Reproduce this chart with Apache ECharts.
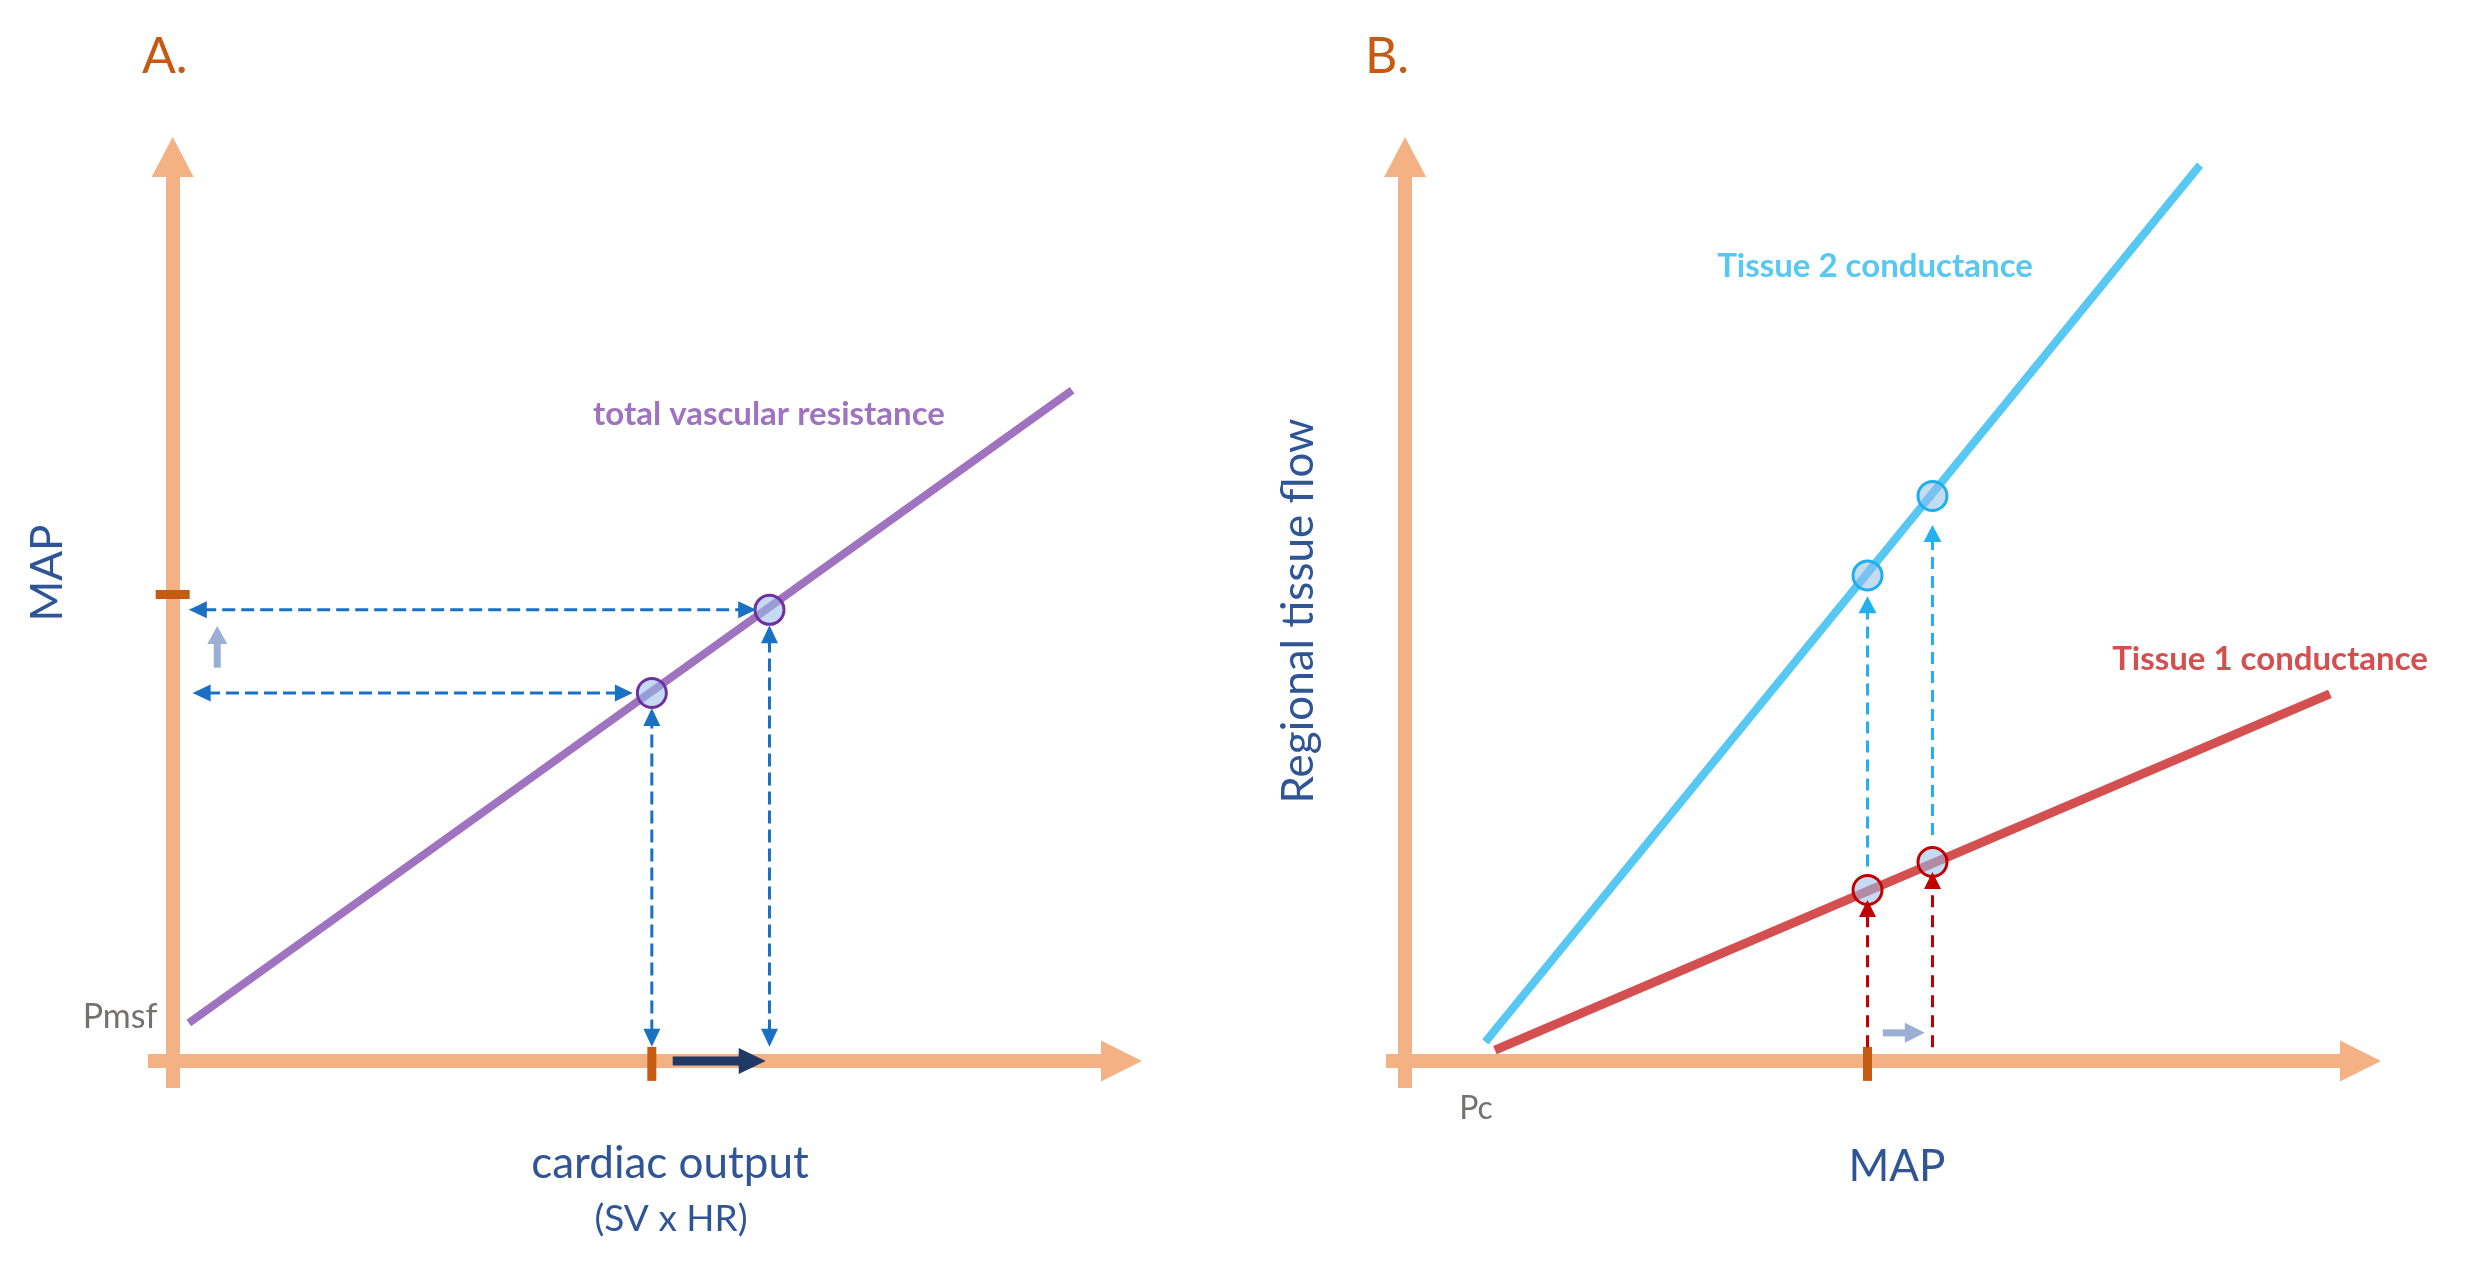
<!DOCTYPE html>
<html><head><meta charset="utf-8">
<script src="https://cdn.jsdelivr.net/npm/echarts@6/dist/echarts.min.js"></script>
<style>html,body{margin:0;padding:0;background:#fff}#c{width:2470px;height:1262px}</style>
</head><body><div id="c"></div>
<script>
// ---------- Panel A (arbitrary units) ----------
const tvrLine = [[1.7, 4.2], [94.8, 74.2]];          // total vascular resistance line, starts at Pmsf
const coValues = [50.5, 62.9];                        // cardiac output: baseline, increased
const mapValuesA = [40.7, 49.9];                      // MAP
const mapTickA = 51.6;                                // orange tick on MAP axis
const dashArrowsA = [                                 // [x1, y1, x2, y2] tip to tip, double-headed
  [1.7, 49.9, 61.5, 49.9],
  [2.1, 40.7, 48.5, 40.7],
  [50.5, 1.55, 50.5, 39.05],
  [62.9, 1.55, 62.9, 48.2]
];
const shiftUpA = [[4.7, 43.5, 4.7, 48.1]];            // light "MAP rises" arrow
const shiftCoA = [[52.7, 0, 62.5, 0]];                // navy "CO rises" arrow

// ---------- Panel B (arbitrary units) ----------
const tissue2Line = [[8.4, 2.1], [83.2, 99.1]];
const tissue1Line = [[9.4, 1.2], [96.8, 40.6]];
const mapValuesB = [48.4, 55.2];
const flow2 = [53.7, 62.5];
const flow1 = [18.9, 22.0];
const dashArrowsB2 = [[48.4, 21.5, 48.4, 51.4], [55.2, 25.0, 55.2, 59.3]];
const dashArrowsB1 = [[48.4, 1.5, 48.4, 17.8], [55.2, 1.5, 55.2, 20.9]];
const shiftMapB = [[50.0, 3.1, 54.4, 3.1]];

const AXIS = '#F4B183', TICK = '#C55A11', LABEL = '#2F5597';
const FONT = 'Lato, "Noto Sans", sans-serif';

function axis(gridIndex, min, max, symSize) {
  return {
    type: 'value', gridIndex, min, max,
    axisTick: {show: false}, axisLabel: {show: false}, splitLine: {show: false},
    axisLine: {show: true, onZero: true, symbol: ['none', 'triangle'], symbolSize: symSize,
      lineStyle: {color: AXIS, width: 14, cap: 'butt'}}
  };
}

function arrowShapes(p0, p1, o) {
  const dx = p1[0] - p0[0], dy = p1[1] - p0[1];
  const len = Math.hypot(dx, dy), ux = dx / len, uy = dy / len, nx = -uy, ny = ux;
  const kids = [];
  const head = (tip, sx, sy) => ({
    type: 'polygon',
    shape: {points: [
      [tip[0], tip[1]],
      [tip[0] - sx * o.headL + nx * o.headW / 2, tip[1] - sy * o.headL + ny * o.headW / 2],
      [tip[0] - sx * o.headL - nx * o.headW / 2, tip[1] - sy * o.headL - ny * o.headW / 2]
    ]},
    style: {fill: o.color}
  });
  const s0 = o.both ? [p0[0] + ux * o.headL * 0.8, p0[1] + uy * o.headL * 0.8] : p0;
  const s1 = [p1[0] - ux * o.headL * 0.8, p1[1] - uy * o.headL * 0.8];
  kids.push({type: 'line', shape: {x1: s0[0], y1: s0[1], x2: s1[0], y2: s1[1]},
    style: {stroke: o.color, lineWidth: o.width, lineDash: o.dash || null, lineCap: 'butt'}});
  kids.push(head(p1, ux, uy));
  if (o.both) kids.push(head(p0, -ux, -uy));
  return {type: 'group', children: kids};
}

function arrowSeries(gi, data, o, z) {
  return {
    type: 'custom', xAxisIndex: gi, yAxisIndex: gi, data, z: z || 6, silent: true,
    renderItem: (params, api) => {
      const p0 = api.coord([api.value(0), api.value(1)]);
      const p1 = api.coord([api.value(2), api.value(3)]);
      return arrowShapes(p0, p1, o);
    }
  };
}

function tickSeries(gi, data, vertical) {
  return {
    type: 'custom', xAxisIndex: gi, yAxisIndex: gi, data, z: 4, silent: true,
    renderItem: (params, api) => {
      const p = api.coord([api.value(0), api.value(1)]);
      const w = vertical ? 9 : 34, h = vertical ? 34 : 9;
      return {type: 'rect', shape: {x: p[0] - w / 2, y: p[1] - h / 2 + (vertical ? 3 : 0), width: w, height: h},
        style: {fill: TICK}};
    }
  };
}

const circleFill = 'rgba(150,190,235,0.55)';

function txt(text, x, y, font, fill, align, rotation) {
  return {type: 'text', x, y, rotation: rotation || 0, silent: true, z: 10,
    style: {text, font, fill, align, textAlign: align, verticalAlign: 'middle', textVerticalAlign: 'middle'}};
}

const option = {
  animation: false,
  backgroundColor: '#ffffff',
  grid: [
    {left: 148, top: 157, width: 973.5, height: 931},
    {left: 1386, top: 157, width: 974.5, height: 931}
  ],
  xAxis: [axis(0, -2.6, 100, [41, 41]), axis(1, -2, 100, [41, 41])],
  yAxis: [axis(0, -3, 100, [42, 40]), axis(1, -3, 100, [42, 40])],
  series: [
    // Panel A
    {type: 'line', xAxisIndex: 0, yAxisIndex: 0, data: tvrLine, showSymbol: false, silent: true, z: 3,
      lineStyle: {color: '#9F73BF', width: 8, cap: 'butt'}},
    tickSeries(0, [[coValues[0], 0]], true),
    tickSeries(0, [[0, mapTickA]], false),
    arrowSeries(0, dashArrowsA, {color: '#1A71C4', width: 3, dash: [13, 6], headL: 18, headW: 17, both: true}),
    arrowSeries(0, shiftUpA, {color: '#9AAFD3', width: 7, headL: 18, headW: 20}),
    arrowSeries(0, shiftCoA, {color: '#1F3864', width: 9, headL: 27, headW: 26}),
    {type: 'scatter', xAxisIndex: 0, yAxisIndex: 0, z: 5, silent: true, symbolSize: 29,
      data: coValues.map((x, i) => [x, mapValuesA[i]]),
      itemStyle: {color: circleFill, borderColor: '#7030A0', borderWidth: 3, opacity: 1}},
    // Panel B
    {type: 'line', xAxisIndex: 1, yAxisIndex: 1, data: tissue2Line, showSymbol: false, silent: true, z: 3,
      lineStyle: {color: '#56C8F3', width: 8, cap: 'butt'}},
    {type: 'line', xAxisIndex: 1, yAxisIndex: 1, data: tissue1Line, showSymbol: false, silent: true, z: 3,
      lineStyle: {color: '#D45050', width: 9, cap: 'butt'}},
    tickSeries(1, [[mapValuesB[0], 0]], true),
    {type: 'scatter', xAxisIndex: 1, yAxisIndex: 1, z: 5, silent: true, symbolSize: 29,
      data: mapValuesB.map((x, i) => [x, flow2[i]]),
      itemStyle: {color: circleFill, borderColor: '#1DAFEF', borderWidth: 3, opacity: 1}},
    {type: 'scatter', xAxisIndex: 1, yAxisIndex: 1, z: 5, silent: true, symbolSize: 29,
      data: mapValuesB.map((x, i) => [x, flow1[i]]),
      itemStyle: {color: circleFill, borderColor: '#C00000', borderWidth: 3, opacity: 1}},
    arrowSeries(1, dashArrowsB2, {color: '#22B0EE', width: 3, dash: [12, 7], headL: 17, headW: 18}, 6),
    arrowSeries(1, dashArrowsB1, {color: '#C00000', width: 3, dash: [12, 8], headL: 17, headW: 17}, 6),
    arrowSeries(1, shiftMapB, {color: '#9AAFD3', width: 7, headL: 20, headW: 20})
  ],
  graphic: [
    txt('A.', 142, 57, '50px ' + FONT, TICK, 'left'),
    txt('B.', 1365, 57, '50px ' + FONT, TICK, 'left'),
    txt('MAP', 48, 573, '44px ' + FONT, LABEL, 'center', Math.PI / 2),
    txt('Regional tissue flow', 1299, 611, '44px ' + FONT, LABEL, 'center', Math.PI / 2),
    txt('Pmsf', 120, 1017, '34px ' + FONT, '#767171', 'center'),
    txt('Pc', 1476, 1109, '32px ' + FONT, '#767171', 'center'),
    txt('cardiac output', 670, 1164, '44px ' + FONT, LABEL, 'center'),
    txt('(SV x HR)', 671, 1219, '37px ' + FONT, LABEL, 'center'),
    txt('MAP', 1897, 1167, '44px ' + FONT, LABEL, 'center'),
    txt('total vascular resistance', 769, 414, 'bold 33px ' + FONT, '#9F73BF', 'center'),
    txt('Tissue 2 conductance', 1875, 266, 'bold 33px ' + FONT, '#56C8F3', 'center'),
    txt('Tissue 1 conductance', 2270, 659, 'bold 33px ' + FONT, '#D45050', 'center')
  ]
};

const chart = echarts.init(document.getElementById('c'), null, {renderer: 'canvas'});
chart.setOption(option);
</script>
</body></html>
